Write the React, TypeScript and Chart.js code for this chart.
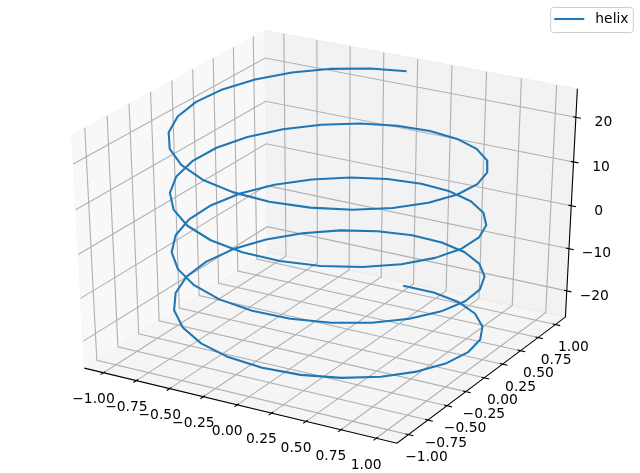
import { useEffect, useRef } from 'react';
import { Chart, registerables } from 'chart.js';

Chart.register(...registerables);

const seriesLabel = 'helix';
const helixX = [0,.251,.486,.690,.850,.955,.999,.979,.896,.756,.567,.342,.095,-.158,-.401,-.618,-.796,-.922,-.990,-.994,-.934,-.815,-.643,-.430,-.189,.063,.312,.541,.735,.881,.972,1.000,.964,.866,.713,.514,.282,.032,-.220,-.458,-.667,-.833,-.945,-.997,-.985,-.910,-.776,-.593,-.372,-.127,
  .127,.372,.593,.776,.910,.985,.997,.945,.833,.667,.458,.220,-.032,-.282,-.514,-.713,-.866,-.964,-1.000,-.972,-.881,-.735,-.541,-.312,-.063,.189,.430,.643,.815,.934,.994,.990,.922,.796,.618,.401,.158,-.095,-.342,-.567,-.756,-.896,-.979,-.999,-.955,-.850,-.690,-.486,-.251,0];
const helixY = [1,.968,.874,.724,.527,.297,.048,-.205,-.444,-.655,-.824,-.940,-.995,-.987,-.916,-.786,-.606,-.386,-.142,.111,.357,.580,.766,.903,.982,.998,.950,.841,.678,.472,.236,-.016,-.266,-.500,-.701,-.858,-.960,-1.000,-.975,-.889,-.745,-.554,-.327,-.079,.174,.415,.631,.805,.928,.992,
  .992,.928,.805,.631,.415,.174,-.079,-.327,-.554,-.745,-.889,-.975,-1.000,-.960,-.858,-.701,-.500,-.266,-.016,.236,.472,.678,.841,.950,.998,.982,.903,.766,.580,.357,.111,-.142,-.386,-.606,-.786,-.916,-.987,-.995,-.940,-.824,-.655,-.444,-.205,.048,.297,.527,.724,.874,.968,1];
const helixZ = [-25,-24.49,-23.99,-23.48,-22.98,-22.47,-21.97,-21.46,-20.96,-20.45,-19.95,-19.44,-18.94,-18.43,-17.93,-17.42,-16.92,-16.41,-15.91,-15.40,-14.90,-14.39,-13.89,-13.38,-12.88,-12.37,-11.87,-11.36,-10.86,-10.35,-9.85,-9.34,-8.84,-8.33,-7.83,-7.32,-6.82,-6.31,-5.81,-5.30,-4.80,-4.29,-3.79,-3.28,-2.78,-2.27,-1.77,-1.26,-.76,-.25,
  .25,.76,1.26,1.77,2.27,2.78,3.28,3.79,4.29,4.80,5.30,5.81,6.31,6.82,7.32,7.83,8.33,8.84,9.34,9.85,10.35,10.86,11.36,11.87,12.37,12.88,13.38,13.89,14.39,14.90,15.40,15.91,16.41,16.92,17.42,17.93,18.43,18.94,19.44,19.95,20.45,20.96,21.46,21.97,22.47,22.98,23.48,23.99,24.49,25];

const xTicks = [-1, -0.75, -0.5, -0.25, 0, 0.25, 0.5, 0.75, 1];
const yTicks = [-1, -0.75, -0.5, -0.25, 0, 0.25, 0.5, 0.75, 1];
const zTicks = [-20, -10, 0, 10, 20];
const xTickLabels = ['−1.00', '−0.75', '−0.50', '−0.25', '0.00', '0.25', '0.50', '0.75', '1.00'];
const yTickLabels = ['−1.00', '−0.75', '−0.50', '−0.25', '0.00', '0.25', '0.50', '0.75', '1.00'];
const zTickLabels = ['−20', '−10', '0', '10', '20'];

// Box half-sizes of the drawn panes
const LX = 1.146;
const LY = 1.146;
const LZ = 26.3;

// View: elevation 30°, azimuth -60°, distance 10
function project(x: number, y: number, z: number) {
  const dx = x / (2 * LX);
  const dy = y / (2 * LY);
  const dz = z / (2 * LZ);
  const a = 0.866025 * dx + 0.5 * dy;
  const b = -0.25 * dx + 0.433013 * dy + 0.866025 * dz;
  const c = 0.433013 * dx - 0.75 * dy + 0.5 * dz;
  const w = 10 - c;
  return { x: 328.6 + (3609 * a) / w, y: 229.7 - (2663 * b) / w };
}

type P3 = [number, number, number];
const path = (pts: P3[]) => pts.map((p) => project(p[0], p[1], p[2]));

function line(pts: P3[], color: string, width: number, order: number) {
  return {
    data: path(pts),
    showLine: true,
    pointRadius: 0,
    borderColor: color,
    borderWidth: width,
    borderCapStyle: 'butt',
    fill: false,
    order,
  };
}

function pane(pts: P3[], color: string) {
  return {
    data: path([...pts, pts[0]]),
    showLine: true,
    pointRadius: 0,
    borderColor: color,
    borderWidth: 1,
    backgroundColor: color,
    fill: 'shape',
    order: 5,
  };
}

const GRID = '#b0b0b0';
const AXIS = '#000000';
const TICK_OUT = 0.035;
const TICK_IN = 0.02;

const labelsPlugin = {
  id: 'tickText',
  afterDraw(chart: any) {
    const { ctx, scales } = chart;
    const sx = scales.x;
    const sy = scales.y;
    ctx.save();
    ctx.font = '13.89px "DejaVu Sans"';
    ctx.fillStyle = '#000';
    ctx.textAlign = 'center';
    ctx.textBaseline = 'middle';
    const put = (text: string, p: { x: number; y: number }, ox: number, oy: number) => {
      ctx.fillText(text, sx.getPixelForValue(p.x + ox), sy.getPixelForValue(p.y + oy));
    };
    xTicks.forEach((t, i) => put(xTickLabels[i], project(t, -LY, -LZ), -10, 26.7));
    yTicks.forEach((t, i) => put(yTickLabels[i], project(LX, t, -LZ), 18, 23));
    zTicks.forEach((t, i) => put(zTickLabels[i], project(LX, LY, t), 27.5, 5.2));

    // legend
    const left = 550.7, top = 7.5, w = 82.6, h = 25, r = 2.8;
    ctx.beginPath();
    ctx.roundRect(left, top, w, h, r);
    ctx.fillStyle = 'rgba(255,255,255,0.8)';
    ctx.fill();
    ctx.strokeStyle = '#cccccc';
    ctx.lineWidth = 1;
    ctx.stroke();
    ctx.beginPath();
    ctx.moveTo(left + 3.6, top + 11.5);
    ctx.lineTo(left + 33.6, top + 11.5);
    ctx.strokeStyle = '#1f77b4';
    ctx.lineWidth = 2.08;
    ctx.stroke();
    ctx.fillStyle = '#000';
    ctx.textAlign = 'left';
    ctx.fillText(seriesLabel, left + 44.6, top + 12);
    ctx.restore();
  },
};

export default function App() {
  const ref = useRef<HTMLCanvasElement>(null);
  useEffect(() => {
    if (!ref.current) return;
    const helix = {
      label: seriesLabel,
      data: helixX.map((x, i) => project(x, helixY[i], helixZ[i])),
      showLine: true,
      pointRadius: 0,
      borderColor: '#1f77b4',
      borderWidth: 2.08,
      borderCapStyle: 'butt',
      borderJoinStyle: 'round',
      tension: 0,
      fill: false,
      order: 0,
    };
    const grid = [
      ...xTicks.map((t) => line([[t, -LY, -LZ], [t, LY, -LZ], [t, LY, LZ]], GRID, 1.1, 3)),
      ...yTicks.map((t) => line([[LX, t, -LZ], [-LX, t, -LZ], [-LX, t, LZ]], GRID, 1.1, 3)),
      ...zTicks.map((t) => line([[-LX, -LY, t], [-LX, LY, t], [LX, LY, t]], GRID, 1.1, 3)),
    ];
    const ticks = [
      ...xTicks.map((t) => line([[t, -LY - TICK_OUT, -LZ], [t, -LY + TICK_IN, -LZ]], AXIS, 1.1, 1)),
      ...yTicks.map((t) => line([[LX + TICK_OUT, t, -LZ], [LX - TICK_IN, t, -LZ]], AXIS, 1.1, 1)),
      ...zTicks.map((t) => line([[LX + TICK_OUT, LY, t], [LX - TICK_IN, LY, t]], AXIS, 1.1, 1)),
    ];
    const axes = [
      line([[-LX, -LY, -LZ], [LX, -LY, -LZ], [LX, LY, -LZ], [LX, LY, LZ]], AXIS, 1.1, 2),
    ];
    const panes = [
      pane([[-LX, -LY, -LZ], [-LX, LY, -LZ], [-LX, LY, LZ], [-LX, -LY, LZ]], 'rgba(242,242,242,0.5)'),
      pane([[-LX, LY, -LZ], [LX, LY, -LZ], [LX, LY, LZ], [-LX, LY, LZ]], 'rgba(230,230,230,0.5)'),
      pane([[-LX, -LY, -LZ], [LX, -LY, -LZ], [LX, LY, -LZ], [-LX, LY, -LZ]], 'rgba(236,236,236,0.5)'),
    ];
    const chart = new Chart(ref.current, {
      type: 'scatter',
      data: { datasets: [helix, ...ticks, ...axes, ...grid, ...panes] as any },
      options: {
        responsive: false,
        animation: false,
        devicePixelRatio: 1,
        layout: { padding: 0 },
        scales: {
          x: { type: 'linear', min: 0, max: 640, display: false },
          y: { type: 'linear', min: 0, max: 473, reverse: true, display: false },
        },
        plugins: { legend: { display: false }, tooltip: { enabled: false } },
      },
      plugins: [labelsPlugin],
    } as any);
    return () => chart.destroy();
  }, []);
  return (
    <div style={{ position: 'fixed', left: 0, top: 0, width: 640, height: 473, background: '#fff' }}>
      <canvas ref={ref} width={640} height={473} style={{ display: 'block' }} />
    </div>
  );
}
